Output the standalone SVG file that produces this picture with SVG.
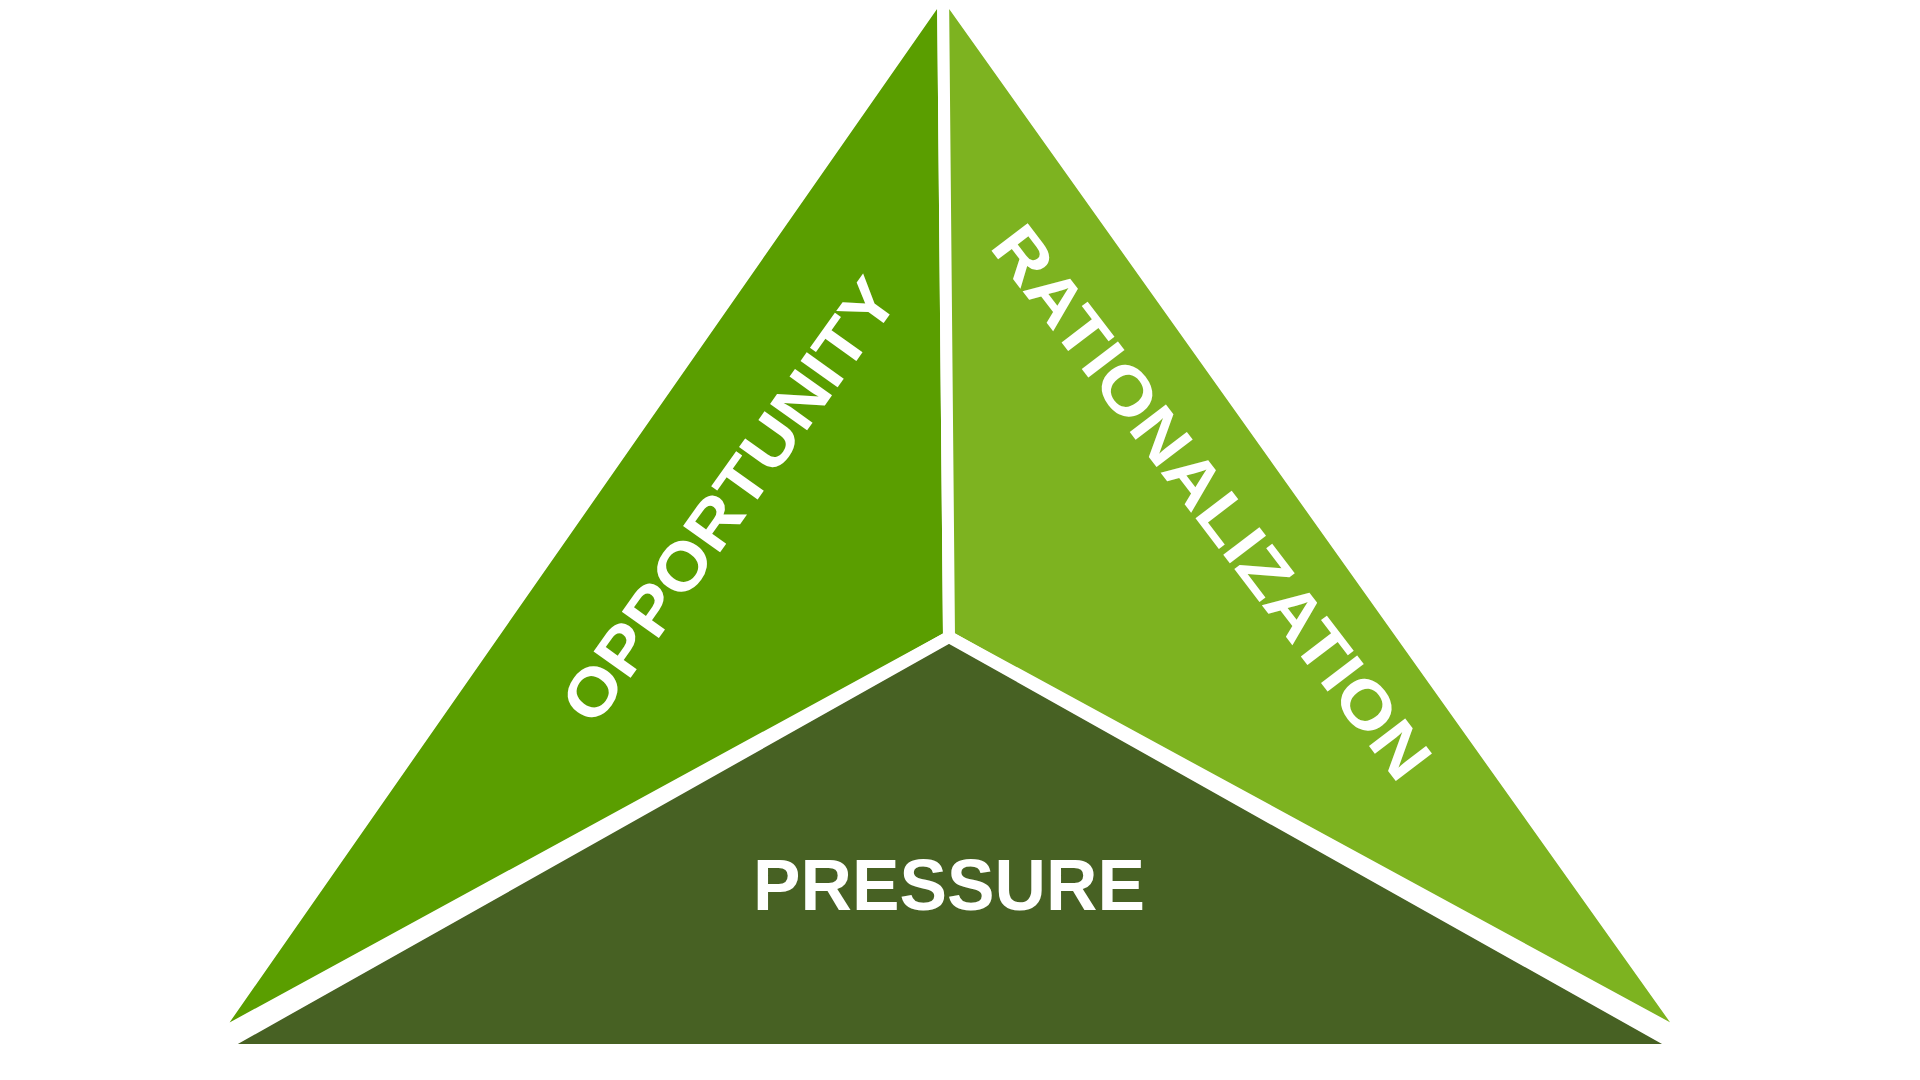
<svg xmlns="http://www.w3.org/2000/svg" width="1920" height="1080" viewBox="0 0 1920 1080">
<style>
.lbl{font-family:"Liberation Sans",Arial,sans-serif;font-weight:bold;fill:#fff;text-anchor:middle;dominant-baseline:central}
.face{stroke:#fff;stroke-width:12;stroke-linejoin:miter}
</style>
<rect width="1920" height="1080" fill="#fff"/>
<g id="opportunity">
<polygon class="face" fill="#5a9e00" points="943,-10 949,637 210,1040"/>
<text class="lbl" x="729" y="500" font-size="66" textLength="527" lengthAdjust="spacingAndGlyphs" transform="rotate(-54.5 729 500)">OPPORTUNITY</text>
</g>
<g id="rationalization">
<polygon class="face" fill="#7db320" points="943,-10 949,637 1690,1040"/>
<text class="lbl" x="1212" y="502" font-size="66" textLength="677" lengthAdjust="spacingAndGlyphs" transform="rotate(52.7 1212 502)">RATIONALIZATION</text>
</g>
<g id="pressure">
<polygon class="face" fill="#476123" points="949,637 215,1050 1685,1050"/>
<text class="lbl" x="949" y="885" font-size="72" textLength="392" lengthAdjust="spacingAndGlyphs">PRESSURE</text>
</g>
<g id="connectors"/>
</svg>
